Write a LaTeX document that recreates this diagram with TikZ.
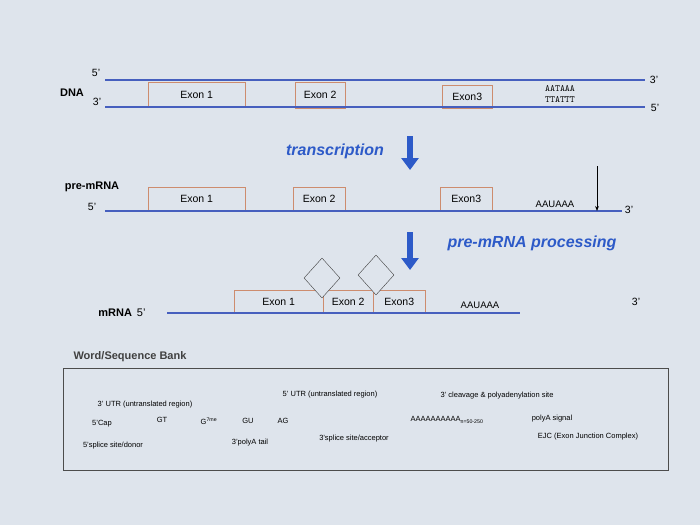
\documentclass[tikz,border=0pt]{standalone}
\usepackage{fontspec}
\setmainfont{Liberation Sans}
\usetikzlibrary{arrows.meta,shapes.geometric}
\definecolor{strand}{RGB}{70,95,190}
\definecolor{exonbox}{RGB}{205,140,110}
\definecolor{bluearrow}{RGB}{45,90,200}
\definecolor{paper}{RGB}{222,228,236}
\tikzstyle{exon}=[draw=exonbox, fill=none, anchor=north west, inner sep=0pt, font=\fontsize{10.5}{11}\selectfont]
\tikzstyle{lbl}=[font=\fontsize{10.5}{11}\selectfont, inner sep=1pt]
\tikzstyle{bank}=[font=\fontsize{7.5}{8}\selectfont, inner sep=1pt]
\tikzstyle{head}=[font=\bfseries\itshape\fontsize{16}{17}\selectfont, text=bluearrow, inner sep=1pt]
\tikzstyle{strand edge}=[draw=strand, line width=1.2pt]
\tikzstyle{big arrow}=[draw=bluearrow, line width=6pt, -{Triangle[width=17pt,length=12pt]}]

\begin{document}
\begin{tikzpicture}[x=1pt,y=-1pt]
	\fill [paper] (0,0) rectangle (700,525);
	\useasboundingbox (0,0) rectangle (700,525);
	% DNA
	\node [exon, minimum width=97pt, minimum height=25pt] (dx1) at (148,82) {Exon 1};
	\node [exon, minimum width=50pt, minimum height=26pt] (dx2) at (295,82) {Exon 2};
	\node [exon, minimum width=50pt, minimum height=23pt] (dx3) at (442,85) {Exon3};
	\coordinate (d1) at (105,80);
	\coordinate (d2) at (645,80);
	\coordinate (d3) at (105,107);
	\coordinate (d4) at (645,107);
	\draw [style=strand edge] (d1) -- (d2);
	\draw [style=strand edge] (d3) -- (d4);
	\node [lbl, font=\bfseries\fontsize{11}{12}\selectfont] (dna) at (72,93) {DNA};
	\node [lbl] (d5) at (96,73) {5'};
	\node [lbl] (d3l) at (97,102) {3'};
	\node [lbl] (d3r) at (654,80) {3'};
	\node [lbl] (d5r) at (655,108) {5'};
	\node [lbl, font=\fontsize{9.5}{10}\selectfont\ttfamily] (aat) at (560,89) {AATAAA};
	\node [lbl, font=\fontsize{9.5}{10}\selectfont\ttfamily] (tta) at (560,100) {TTATTT};
	% transcription
	\node [head] (tr) at (335,151) {transcription};
	\coordinate (ta) at (410,136);
	\coordinate (tb) at (410,170);
	\draw [style=big arrow] (ta) -- (tb);
	% pre-mRNA
	\node [exon, minimum width=97pt, minimum height=23pt] (px1) at (148,187) {Exon 1};
	\node [exon, minimum width=52pt, minimum height=23pt] (px2) at (293,187) {Exon 2};
	\node [exon, minimum width=52pt, minimum height=23pt] (px3) at (440,187) {Exon3};
	\coordinate (p1) at (105,211);
	\coordinate (p2) at (622,211);
	\draw [style=strand edge] (p1) -- (p2);
	\node [lbl, font=\bfseries\fontsize{11}{12}\selectfont] (pre) at (92,187) {pre-mRNA};
	\node [lbl] (p5) at (92,207) {5'};
	\node [lbl] (p3) at (629,210) {3'};
	\node [lbl, font=\fontsize{9.5}{10}\selectfont] (pau) at (555,204) {AAUAAA};
	\coordinate (sa) at (597,166);
	\coordinate (sb) at (597,211);
	\draw [-{Stealth[length=5pt]}, line width=0.6pt] (sa) -- (sb);
	% processing
	\coordinate (pa) at (410,232);
	\coordinate (pb) at (410,270);
	\draw [style=big arrow] (pa) -- (pb);
	\node [head] (proc) at (532,243) {pre-mRNA processing};
	% mRNA
	\node [exon, minimum width=89pt, minimum height=23pt] (mx1) at (234,290) {Exon 1};
	\node [exon, minimum width=50pt, minimum height=23pt] (mx2) at (323,290) {Exon 2};
	\node [exon, minimum width=52pt, minimum height=23pt] (mx3) at (373,290) {Exon3};
	\coordinate (m1) at (167,313);
	\coordinate (m2) at (520,313);
	\draw [style=strand edge] (m1) -- (m2);
	\node [lbl, font=\bfseries\fontsize{11}{12}\selectfont] (mrna) at (122,313) {mRNA \,\mdseries 5'};
	\node [lbl] (m3) at (636,302) {3'};
	\node [draw=black!75, fill=paper, diamond, minimum width=36pt, minimum height=40pt, inner sep=0pt] (ejc1) at (322,278) {};
	\node [draw=black!75, fill=paper, diamond, minimum width=36pt, minimum height=40pt, inner sep=0pt] (ejc2) at (376,275) {};
	\node [lbl, font=\fontsize{9.5}{10}\selectfont] (mau) at (480,305) {AAUAAA};
	% word bank
	\node [lbl, font=\bfseries\fontsize{11}{12}\selectfont, text=black!75] (wb) at (130,357) {Word/Sequence Bank};
	\node [draw=black!70, line width=0.8pt, minimum width=605pt, minimum height=102pt, anchor=north west] (box) at (63,368) {};
	\node [bank] (w1) at (145,405) {3' UTR (untranslated region)};
	\node [bank] (w2) at (330,395) {5' UTR (untranslated region)};
	\node [bank] (w3) at (497,396) {3' cleavage \& polyadenylation site};
	\node [bank] (w4) at (102,424) {5'Cap};
	\node [bank] (w5) at (162,420) {GT};
	\node [bank] (w6) at (209,421) {G\textsuperscript{7me}};
	\node [bank] (w7) at (248,421) {GU};
	\node [bank] (w8) at (283,421) {AG};
	\node [bank] (w9) at (447,420) {AAAAAAAAAA\textsubscript{n=50-250}};
	\node [bank] (w10) at (552,419) {polyA signal};
	\node [bank] (w11) at (113,446) {5'splice site/donor};
	\node [bank] (w12) at (250,443) {3'polyA tail};
	\node [bank] (w13) at (354,439) {3'splice site/acceptor};
	\node [bank] (w14) at (588,437) {EJC (Exon Junction Complex)};
\end{tikzpicture}
\end{document}
